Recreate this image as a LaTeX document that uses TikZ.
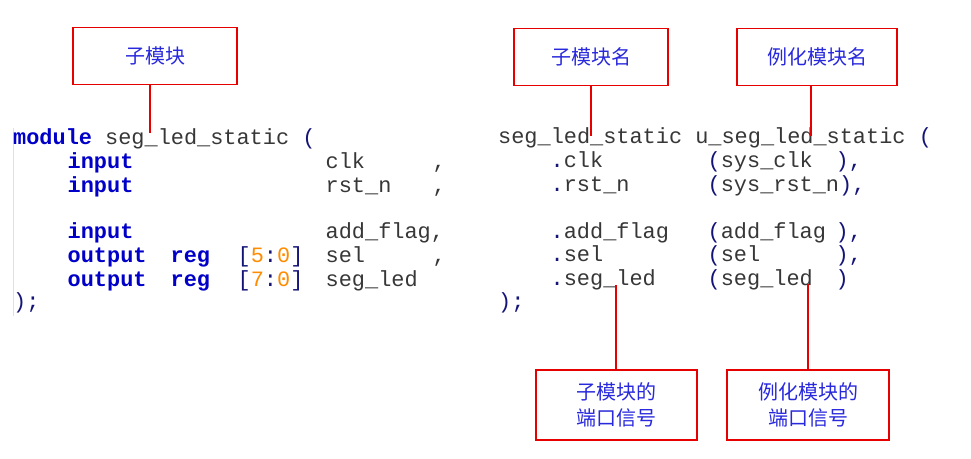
\documentclass[tikz,border=0pt]{standalone}
\usepackage{fontspec}
\setmonofont{Liberation Mono}
\newfontfamily\cjk{Noto Sans CJK SC}
\usetikzlibrary{positioning}
\definecolor{kwblue}{RGB}{0,0,200}
\definecolor{navy}{RGB}{20,20,120}
\definecolor{idgray}{RGB}{55,55,55}
\definecolor{numorange}{RGB}{255,140,0}
\definecolor{boxred}{RGB}{230,0,0}
\definecolor{labelblue}{RGB}{40,40,220}
\newcommand{\putat}[2]{\rlap{\hspace*{#1pt}#2}}
\newcommand{\kw}[1]{\textcolor{kwblue}{\bfseries #1}}
\newcommand{\num}[1]{\textcolor{numorange}{#1}}
\newcommand{\pn}[1]{\textcolor{navy}{#1}}

\begin{document}
\begin{tikzpicture}[x=1pt,y=-1pt]
  \tikzstyle{codeLine} = [
    % Just text!
    anchor=base west, inner sep=0pt,
    font=\fontsize{21.9pt}{24pt}\ttfamily, text=idgray
  ];
  \tikzstyle{note} = [
    % The shape:
    rectangle, minimum height=57pt, minimum width=162pt,
    % The border:
    line width=1.6pt, draw=boxred,
    % Font:
    font=\cjk\fontsize{20pt}{26pt}\selectfont, text=labelblue, align=center
  ];
  \tikzstyle{pointer} = [
    draw = boxred,
    line width=1.8pt
  ];

  \useasboundingbox (0,0) rectangle (971,458);
  \draw [black!12, line width=1pt] (13,128) -- (13,316);

  % left: module header
  \node [codeLine] (m1) at (13,144) {\kw{module} seg\_led\_static \pn{(}};
  \node [codeLine] (m2) at (13,168) {\putat{54}{\kw{input}}\putat{312}{clk}\putat{419}{,}};
  \node [codeLine] (m3) at (13,192) {\putat{54}{\kw{input}}\putat{312}{rst\_n}\putat{419}{,}};
  \node [codeLine] (m4) at (13,238) {\putat{54}{\kw{input}}\putat{312}{add\_flag,}};
  \node [codeLine] (m5) at (13,262) {\putat{54}{\kw{output}}\putat{157}{\kw{reg}}\putat{224}{\pn{[}\num{5}\pn{:}\num{0}\pn{]}}\putat{312}{sel}\putat{419}{,}};
  \node [codeLine] (m6) at (13,286) {\putat{54}{\kw{output}}\putat{157}{\kw{reg}}\putat{224}{\pn{[}\num{7}\pn{:}\num{0}\pn{]}}\putat{312}{seg\_led}};
  \node [codeLine] (m7) at (13,308) {\pn{);}};

  % right: instance
  \node [codeLine] (u1) at (498,143) {seg\_led\_static u\_seg\_led\_static \pn{(}};
  \node [codeLine] (u2) at (498,167) {\putat{52}{\pn{.}clk}\putat{209}{\pn{(}sys\_clk}\putat{337}{\pn{),}}};
  \node [codeLine] (u3) at (498,191) {\putat{52}{\pn{.}rst\_n}\putat{209}{\pn{(}sys\_rst\_n\pn{),}}};
  \node [codeLine] (u4) at (498,238) {\putat{52}{\pn{.}add\_flag}\putat{209}{\pn{(}add\_flag}\putat{337}{\pn{),}}};
  \node [codeLine] (u5) at (498,261) {\putat{52}{\pn{.}sel}\putat{209}{\pn{(}sel}\putat{337}{\pn{),}}};
  \node [codeLine] (u6) at (498,285) {\putat{52}{\pn{.}seg\_led}\putat{209}{\pn{(}seg\_led}\putat{337}{\pn{)}}};
  \node [codeLine] (u7) at (498,308) {\pn{);}};

  % annotations
  \node [note, minimum width=164pt] (subMod) at (155,56) {子模块};
  \node [note, minimum width=154pt] (subName) at (591,57) {子模块名};
  \node [note, minimum width=160pt] (instName) at (817,57) {例化模块名};
  \node [note, minimum height=70pt, minimum width=161pt] (subPort) at (616.5,405) {子模块的\\端口信号};
  \node [note, minimum height=70pt, minimum width=162pt] (instPort) at (808,405) {例化模块的\\端口信号};

  \coordinate (subModTip) at (150,133);
  \coordinate (subNameTip) at (591,136);
  \coordinate (instNameTip) at (811,136);
  \coordinate (subPortTip) at (616,285);
  \coordinate (instPortTip) at (808,284);

  \path [pointer] (subMod.south -| subModTip) to (subModTip);
  \path [pointer] (subName.south -| subNameTip) to (subNameTip);
  \path [pointer] (instName.south -| instNameTip) to (instNameTip);
  \path [pointer] (subPort.north -| subPortTip) to (subPortTip);
  \path [pointer] (instPort.north -| instPortTip) to (instPortTip);
\end{tikzpicture}
\end{document}
